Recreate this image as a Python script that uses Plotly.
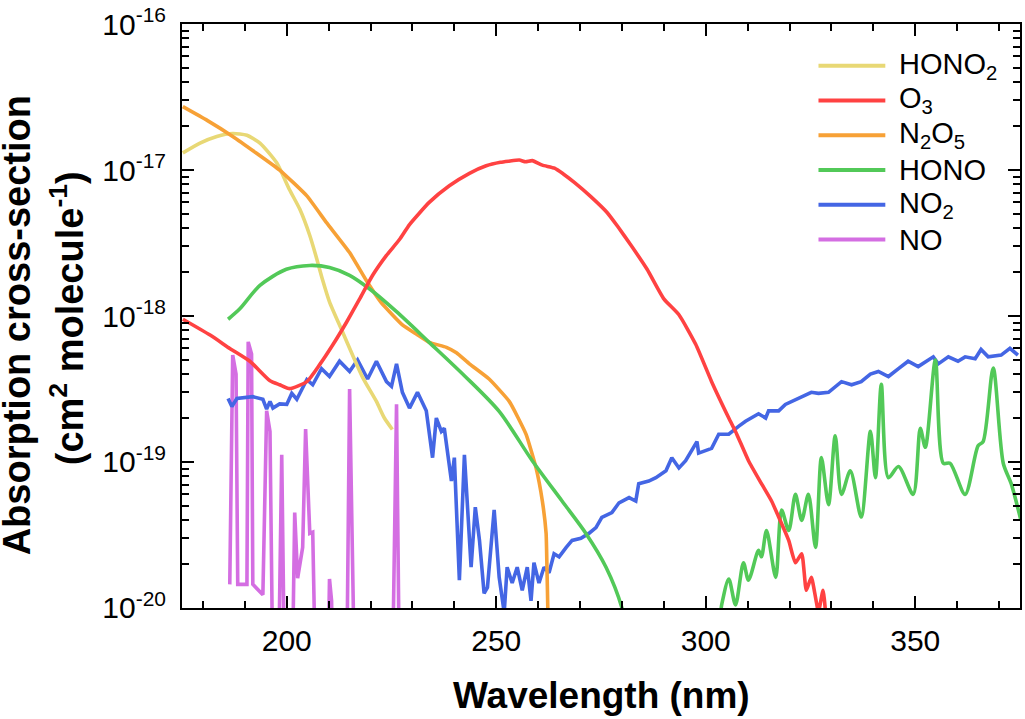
import plotly.graph_objects as go

# Absorption cross-sections (cm^2 molecule^-1) vs wavelength (nm).
hono2_wl = [175.2, 179.3, 183.3, 187.1, 190.5, 193.6, 197.6, 200.7, 203.1, 205.5,
            207.1, 208.6, 210.2, 213.3, 215.7, 218.1, 221.4, 223.3, 225.2]
hono2_xs = [1.31e-17, 1.53e-17, 1.70e-17, 1.78e-17, 1.73e-17, 1.53e-17, 1.12e-17, 7.3e-18, 5.4e-18, 3.56e-18,
            2.5e-18, 1.75e-18, 1.25e-18, 7.8e-19, 5.4e-19, 3.8e-19, 2.6e-19, 2.0e-19, 1.67e-19]

o3_wl = [175.2, 181.7, 186.4, 191.2, 196.0, 198.3, 200.7, 204.8, 207.9, 211.0,
         214.3, 217.4, 220.5, 223.8, 226.9, 229.3, 234.0, 238.8, 243.6, 247.6,
         251.0, 253.0, 255.5, 257.0, 258.6, 261.0, 263.9, 266.0, 268.7, 272.5,
         276.5, 279.0, 282.2, 286.0, 290.0, 293.6, 297.6, 301.4, 305.5, 307.4,
         310.2, 313.3, 315.7, 317.4, 319.8, 321.4, 322.9, 324.0, 325.2, 326.9,
         328.0, 328.8, 329.5]
o3_xs = [9.5e-19, 7.4e-19, 6.0e-19, 4.9e-19, 3.6e-19, 3.38e-19, 3.18e-19, 3.55e-19, 4.66e-19, 6.35e-19,
         9.1e-19, 1.31e-18, 1.9e-18, 2.6e-18, 3.34e-18, 4.23e-18, 6.0e-18, 7.8e-18, 9.5e-18, 1.07e-17,
         1.13e-17, 1.15e-17, 1.17e-17, 1.14e-17, 1.16e-17, 1.08e-17, 1.03e-17, 9.4e-18, 8.2e-18, 6.6e-18,
         5.1e-18, 4.1e-18, 3.04e-18, 2.09e-18, 1.31e-18, 1.02e-18, 6.4e-19, 3.55e-19, 2.0e-19, 1.55e-19,
         1.02e-19, 7.1e-20, 5.4e-20, 4.2e-20, 2.9e-20, 2.04e-20, 2.35e-20, 1.32e-20, 1.62e-20, 9.5e-21,
         1.32e-20, 8e-21, 5e-21]

n2o5_wl = [175.2, 181.0, 187.1, 198.3, 204.8, 209.5, 215.0, 219.0, 222.5, 227.6,
           231.0, 234.0, 238.1, 240.5, 243.6, 248.3, 253.1, 257.1, 259.5, 261.0,
           261.9, 262.1, 262.3, 262.4]
n2o5_xs = [2.72e-17, 2.19e-17, 1.70e-17, 1.0e-17, 6.65e-18, 4.36e-18, 2.72e-18, 1.75e-18, 1.24e-18, 8.7e-19,
           7.5e-19, 6.6e-19, 6.1e-19, 5.6e-19, 4.7e-19, 3.7e-19, 2.6e-19, 1.55e-19, 9.1e-20, 5.4e-20,
           3.24e-20, 1.9e-20, 1.0e-20, 5e-21]

hono_wl = [186.0, 188.8, 193.6, 199.9, 205.5, 210.2, 215.0, 219.8, 226.2, 234.0,
           242.4, 250.7, 258.6, 265.7, 271.4, 276.2, 280.0, 282.0, 302.0, 303.8,
           305.5, 307.1, 309.0, 310.2, 312.6, 313.3, 314.5, 316.7, 318.1, 319.8,
           321.4, 322.9, 324.5, 326.2, 327.6, 329.3, 330.9, 332.4, 334.5, 337.1,
           339.3, 340.5, 341.9, 343.6, 346.0, 349.5, 351.2, 352.4, 354.8, 356.7,
           358.3, 361.9, 365.0, 366.2, 368.6, 371.0, 372.9, 375.2]
hono_xs = [9.5e-19, 1.12e-18, 1.62e-18, 2.09e-18, 2.22e-18, 2.15e-18, 1.9e-18, 1.53e-18, 1.07e-18, 6.6e-19,
           3.9e-19, 2.22e-19, 1.02e-19, 5.4e-20, 3.24e-20, 1.9e-20, 1.0e-20, 5e-21, 5e-21, 1.05e-20,
           1.58e-20, 1.05e-20, 2.04e-20, 1.55e-20, 2.48e-20, 2.24e-20, 3.39e-20, 1.62e-20, 4.68e-20, 3.39e-20,
           6.0e-20, 3.98e-20, 6.0e-20, 2.6e-20, 1.07e-19, 5.1e-20, 1.51e-19, 6.0e-20, 8.7e-20, 4.2e-20,
           1.62e-19, 7.8e-20, 3.4e-19, 7.8e-20, 9.3e-20, 6.0e-20, 1.7e-19, 1.26e-19, 5.0e-19, 9.8e-20,
           9.8e-20, 6.0e-20, 1.29e-19, 1.38e-19, 4.4e-19, 9.8e-20, 7.1e-20, 4.0e-20]

no2_wl = [186.0, 186.9, 188.1, 191.9, 194.3, 195.2, 196.0, 196.7, 198.3, 200.0,
          201.2, 202.4, 204.8, 206.2, 208.3, 210.2, 212.6, 215.0, 216.9, 219.3,
          221.4, 223.8, 225.0, 226.2, 227.6, 229.3, 231.2, 233.3, 234.8, 235.7,
          236.9, 237.6, 239.3, 240.0, 241.2, 242.4, 244.0, 245.0, 246.0, 247.1,
          247.9, 249.5, 250.7, 251.9, 252.6, 253.8, 255.0, 256.2, 257.4, 258.3,
          259.0, 260.2, 261.4, 262.6, 263.8, 265.0, 266.7, 268.1, 270.2, 272.1,
          273.8, 275.2, 277.6, 279.3, 281.7, 283.3, 284.0, 286.4, 288.1, 290.5,
          291.9, 293.6, 295.2, 296.7, 297.9, 298.3, 301.4, 303.1, 305.5, 307.9,
          309.5, 312.6, 314.3, 315.0, 317.4, 319.0, 320.5, 322.9, 325.2, 326.9,
          329.3, 332.4, 334.8, 337.1, 339.3, 341.2, 343.6, 346.0, 348.3, 350.7,
          354.3, 355.5, 357.9, 360.2, 361.9, 364.3, 365.7, 367.4, 370.5, 372.6, 374.5]
no2_xs = [2.72e-19, 2.4e-19, 2.72e-19, 2.8e-19, 2.69e-19, 2.3e-19, 2.6e-19, 2.34e-19, 2.5e-19, 2.48e-19,
          2.95e-19, 2.69e-19, 3.67e-19, 3.38e-19, 4.36e-19, 3.85e-19, 4.9e-19, 4.17e-19, 5.0e-19, 3.7e-19,
          4.9e-19, 3.55e-19, 3.3e-19, 4.7e-19, 3.0e-19, 2.34e-19, 3.0e-19, 2.24e-19, 1.07e-19, 2.0e-19,
          1.62e-19, 1.7e-19, 7.4e-20, 1.07e-19, 1.55e-20, 1.12e-19, 1.9e-20, 4.9e-20, 2.9e-20, 1.26e-20,
          1.38e-20, 4.7e-20, 1.62e-20, 9.3e-21, 1.9e-20, 1.48e-20, 1.9e-20, 1.32e-20, 1.9e-20, 1.12e-20,
          2.04e-20, 1.48e-20, 1.9e-20, 1.74e-20, 2.35e-20, 2.24e-20, 2.6e-20, 2.9e-20, 3.0e-20, 3.24e-20,
          3.55e-20, 4.17e-20, 4.5e-20, 5.25e-20, 5.7e-20, 5.4e-20, 7.1e-20, 7.4e-20, 7.8e-20, 8.7e-20,
          1.07e-19, 9.1e-20, 1.02e-19, 1.19e-19, 1.38e-19, 1.15e-19, 1.24e-19, 1.55e-19, 1.55e-19, 1.76e-19,
          1.9e-19, 2.14e-19, 2.0e-19, 2.24e-19, 2.24e-19, 2.48e-19, 2.6e-19, 2.8e-19, 3.0e-19, 2.95e-19,
          3.0e-19, 3.55e-19, 3.38e-19, 3.55e-19, 4.0e-19, 4.17e-19, 3.85e-19, 4.36e-19, 4.9e-19, 4.5e-19,
          5.25e-19, 4.7e-19, 5.25e-19, 4.9e-19, 5.25e-19, 5.1e-19, 5.9e-19, 5.25e-19, 5.4e-19, 6.0e-19, 5.4e-19]

no_wl = [186.4, 187.1, 187.9, 188.3, 190.5, 190.8, 191.6, 191.9, 194.3, 195.2,
         196.0, 196.7, 198.0, 198.8, 199.5, 201.3, 201.9, 202.6, 203.8, 204.5,
         205.5, 206.2, 206.9, 209.8, 210.2, 210.7, 211.0, 214.3, 215.0, 215.7,
         216.2, 225.2, 226.2, 226.9]
no_xs = [1.45e-20, 5.4e-19, 4.0e-19, 1.45e-20, 1.45e-20, 6.65e-19, 5.5e-19, 1.45e-20, 1.23e-20, 2.24e-19,
         1.62e-19, 3e-21, 3e-21, 1.12e-19, 3e-21, 3e-21, 4.5e-20, 1.6e-20, 2.6e-20, 1.68e-19,
         3.24e-20, 3.3e-20, 3e-21, 3e-21, 1.58e-20, 1.12e-20, 3e-21, 3e-21, 3.16e-19, 1.23e-20,
         3e-21, 3e-21, 2.48e-19, 3e-21]

# name, wavelengths, cross-sections, colour, spline smoothing (0 = straight segments)
species = [
    ("HONO<sub>2</sub>", hono2_wl, hono2_xs, "#E8D875", 0.6),
    ("O<sub>3</sub>", o3_wl, o3_xs, "#FF4242", 0.5),
    ("N<sub>2</sub>O<sub>5</sub>", n2o5_wl, n2o5_xs, "#F7A136", 0.4),
    ("HONO", hono_wl, hono_xs, "#52C958", 0.8),
    ("NO<sub>2</sub>", no2_wl, no2_xs, "#4466E4", 0),
    ("NO", no_wl, no_xs, "#D46EE2", 0),
]
draw_order = [5, 4, 0, 2, 3, 1]

FONT = "Liberation Sans, Arial, Helvetica, sans-serif"
W, H = 1025, 719
L, T, PW, PH = 182, 20, 840, 588
R, B = W - L - PW, H - T - PH


def px_x(px):
    # page pixel -> paper x
    return (px - L) / PW


def px_y(py):
    # page pixel -> paper y
    return (T + PH - py) / PH


fig = go.Figure()
for i in draw_order:
    name, wl, xs, color, smooth = species[i]
    line = dict(color=color, width=3.6)
    if smooth:
        line.update(shape="spline", smoothing=smooth)
    fig.add_trace(go.Scatter(x=wl, y=xs, mode="lines", name=name, showlegend=False, line=line))

# hand-placed legend (long line samples like the original)
for i, (name, _, _, color, _) in enumerate(species):
    row = 62 + 35 * i
    fig.add_shape(type="line", xref="paper", yref="paper",
                  x0=px_x(820), x1=px_x(887), y0=px_y(row), y1=px_y(row),
                  line=dict(color=color, width=4))
    fig.add_annotation(text=name, xref="paper", yref="paper", x=px_x(899), y=px_y(row),
                       xanchor="left", yanchor="middle", showarrow=False,
                       font=dict(family=FONT, size=29, color="black"))

# axis titles
fig.add_annotation(text="<b>Wavelength (nm)</b>", xref="paper", yref="paper",
                   x=0.5, y=px_y(696), xanchor="center", yanchor="middle", showarrow=False,
                   font=dict(family=FONT, size=37, color="black"))
fig.add_annotation(text="<b>Absorption cross-section</b>", xref="paper", yref="paper",
                   x=px_x(17), y=px_y(323), xanchor="center", yanchor="middle", showarrow=False,
                   textangle=-90, font=dict(family=FONT, size=38, color="black"))
fig.add_annotation(text="<b>(cm<sup>2</sup> molecule<sup>-1</sup>)</b>", xref="paper", yref="paper",
                   x=px_x(67), y=px_y(316), xanchor="center", yanchor="middle", showarrow=False,
                   textangle=-90, font=dict(family=FONT, size=38, color="black"))

axis_style = dict(
    showgrid=False, zeroline=False, showline=True, linecolor="black", linewidth=2,
    mirror="allticks", ticks="inside", ticklen=12, tickwidth=2, tickcolor="black",
    tickfont=dict(family=FONT, size=30, color="black"), ticklabeloverflow="allow",
)

fig.update_xaxes(
    range=[175, 375], tickmode="linear", tick0=0, dtick=50, ticklabelstandoff=5,
    minor=dict(ticks="inside", ticklen=7, tickwidth=2, tickcolor="black", tick0=0, dtick=10),
    **axis_style,
)

exps = list(range(-20, -15))
y_major = [float("1e%d" % e) for e in exps]
y_minor = [float("%de%d" % (m, e)) for e in exps[:-1] for m in range(2, 10)]
fig.update_yaxes(
    type="log", range=[-20.0005, -15.9995], tickmode="array", tickvals=y_major,
    ticktext=["10<sup>%d</sup>" % e for e in exps], ticklabelstandoff=8,
    minor=dict(ticks="inside", ticklen=7, tickwidth=2, tickcolor="black",
               tickmode="array", tickvals=y_minor),
    **axis_style,
)

fig.update_layout(
    width=W, height=H,
    margin=dict(l=L, r=R, t=T, b=B),
    plot_bgcolor="white", paper_bgcolor="white",
    font=dict(family=FONT, color="black"),
    showlegend=False,
)

# drop the page's default 8px body margin so the figure fills the window
fig.write_html("out.html", config={"displayModeBar": False},
               post_script="document.body.style.margin = '0';")
